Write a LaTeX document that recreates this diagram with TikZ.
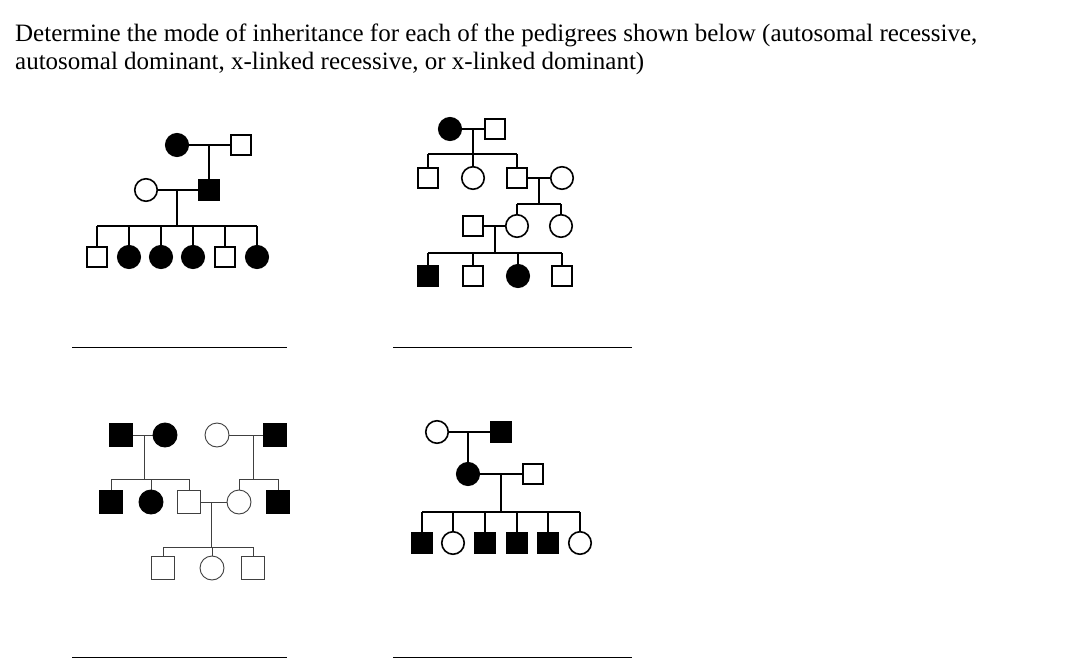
\documentclass[tikz,border=0pt]{standalone}
\usepackage{fontspec}
\setmainfont{Liberation Serif}
\begin{document}
\begin{tikzpicture}[x=1pt,y=-1pt,
  ln/.style={line width=1.6pt},
  lt/.style={line width=0.9pt,draw=black!75},
  sq/.style={draw,line width=1.6pt,minimum size=20.5pt,inner sep=0,fill=white},
  fsq/.style={sq,fill=black},
  ci/.style={draw,circle,line width=1.6pt,minimum size=22.5pt,inner sep=0,fill=white},
  fci/.style={ci,fill=black},
  tsq/.style={sq,line width=0.9pt,draw=black!75,minimum size=23pt},
  tfsq/.style={tsq,fill=black,draw=black},
  tci/.style={ci,line width=0.9pt,draw=black!75,minimum size=24pt},
  tfci/.style={tci,fill=black,draw=black},
  ans/.style={line width=0.8pt}]
\useasboundingbox (0,0) rectangle (1071,666);
\node[anchor=north west,align=left,inner sep=0,font=\fontsize{25}{28}\selectfont] (title) at (15,24)
 {Determine the mode of inheritance for each of the pedigrees shown below (autosomal recessive,\\autosomal dominant, x-linked recessive, or x-linked dominant)};
% ---- pedigree 1
\coordinate (a1) at (209,145); \coordinate (a2) at (177,190); \coordinate (a3) at (177,226);
\draw[ln] (177,145) -- (241,145) (a1) -- (209,190) (146,190) -- (209,190) (a2) -- (a3);
\draw[ln] (97,226) -- (257,226);
\foreach \x in {97,129,161,193,225,257} \draw[ln] (\x,226) -- (\x,257);
\node[fci] (p1f) at (177,145) {}; \node[sq] (p1m) at (241,145) {};
\node[ci] (p1w) at (146,190) {}; \node[fsq] (p1s) at (209,190) {};
\node[sq] (c11) at (97,257) {}; \node[fci] (c12) at (129,257) {};
\node[fci] (c13) at (161,257) {}; \node[fci] (c14) at (193,257) {};
\node[sq] (c15) at (225,257) {}; \node[fci] (c16) at (257,257) {};
% ---- pedigree 2
\draw[ln] (450,129) -- (495,129) (473,129) -- (473,154) (428,154) -- (517,154);
\foreach \x in {428,473,517} \draw[ln] (\x,154) -- (\x,178);
\draw[ln] (517,178) -- (562,178) (539,178) -- (539,204) (517,204) -- (561,204) (517,204) -- (517,226) (561,204) -- (561,226);
\draw[ln] (473,226) -- (517,226) (495,226) -- (495,253) (428,253) -- (562,253);
\foreach \x in {428,473,518,562} \draw[ln] (\x,253) -- (\x,276);
\node[fci] (q1) at (450,129) {}; \node[sq] (q2) at (495,129) {};
\node[sq] (q3) at (428,178) {}; \node[ci] (q4) at (473,178) {}; \node[sq] (q5) at (517,178) {}; \node[ci] (q6) at (562,178) {};
\node[sq] (q7) at (473,226) {}; \node[ci] (q8) at (517,226) {}; \node[ci] (q9) at (561,226) {};
\node[fsq] (q10) at (428,276) {}; \node[sq] (q11) at (473,276) {}; \node[fci] (q12) at (518,276) {}; \node[sq] (q13) at (562,276) {};
% ---- pedigree 3
\draw[lt] (121,435) -- (165,435) (144,435) -- (144,479) (111,479) -- (189,479);
\foreach \x in {111,151,189} \draw[lt] (\x,479) -- (\x,502);
\draw[lt] (217,435) -- (275,435) (253,435) -- (253,479) (239,479) -- (278,479) (239,479) -- (239,502) (278,479) -- (278,502);
\draw[lt] (189,502) -- (239,502) (211,502) -- (211,547) (163,547) -- (253,547);
\foreach \x in {163,212,253} \draw[lt] (\x,547) -- (\x,568);
\node[tfsq] (r1) at (121,435) {}; \node[tfci] (r2) at (165,435) {};
\node[tci] (r3) at (217,435) {}; \node[tfsq] (r4) at (275,435) {};
\node[tfsq] (r5) at (111,502) {}; \node[tfci] (r6) at (151,502) {}; \node[tsq] (r7) at (189,502) {};
\node[tci] (r8) at (239,502) {}; \node[tfsq] (r9) at (278,502) {};
\node[tsq] (r10) at (163,568) {}; \node[tci] (r11) at (212,568) {}; \node[tsq] (r12) at (253,568) {};
% ---- pedigree 4
\draw[ln] (437,432) -- (501,432) (468,432) -- (468,473) (468,474) -- (533,474) (501,474) -- (501,512) (422,512) -- (580,512);
\foreach \x in {422,453,485,517,548,580} \draw[ln] (\x,512) -- (\x,543);
\node[ci] (s1) at (437,432) {}; \node[fsq] (s2) at (501,432) {};
\node[fci] (s3) at (468,474) {}; \node[sq] (s4) at (533,474) {};
\node[fsq] (t1) at (422,543) {}; \node[ci] (t2) at (453,543) {}; \node[fsq] (t3) at (485,543) {};
\node[fsq] (t4) at (517,543) {}; \node[fsq] (t5) at (548,543) {}; \node[ci] (t6) at (580,543) {};
% ---- answer lines
\draw[ans] (72,347) -- (287,347) (393,347) -- (632,347) (72,657) -- (287,657) (393,657) -- (632,657);
\end{tikzpicture}
\end{document}
